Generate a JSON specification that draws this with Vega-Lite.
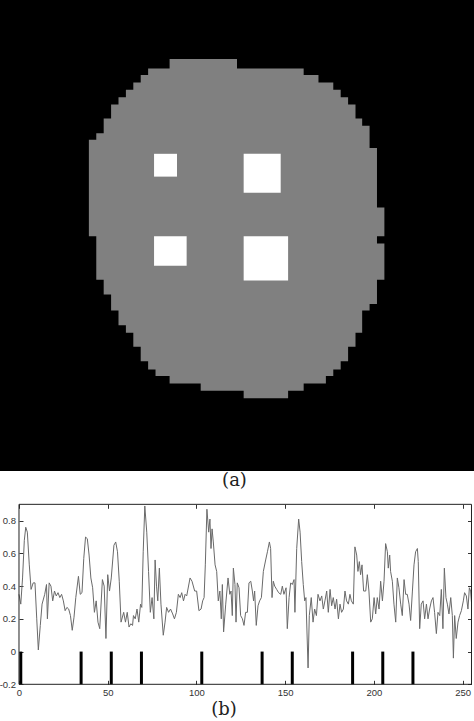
{
  "$schema": "https://vega.github.io/schema/vega-lite/v6.json",
  "width": 474,
  "height": 721,
  "autosize": "none",
  "padding": 0,
  "background": "white",
  "config": {"view": {"stroke": null}},
  "datasets": {
    "image": [
      {"part": "background", "c0": 0, "c1": 64, "r0": 0, "r1": 64},
      {"part": "lesion", "c0": 20.8, "c1": 23.9, "r0": 20.9, "r1": 24},
      {"part": "lesion", "c0": 32.9, "c1": 37.9, "r0": 20.9, "r1": 26.2},
      {"part": "lesion", "c0": 20.8, "c1": 25.2, "r0": 32.1, "r1": 36.1},
      {"part": "lesion", "c0": 32.9, "c1": 38.9, "r0": 32.1, "r1": 38.1}
    ],
    "tissue": [
      {"r": 8, "left": 22.9, "right": 32},
      {"r": 9.3, "left": 20, "right": 41},
      {"r": 10.2, "left": 19, "right": 43},
      {"r": 11.2, "left": 18, "right": 45},
      {"r": 12.2, "left": 17, "right": 46},
      {"r": 13.2, "left": 16, "right": 47},
      {"r": 14.2, "left": 15, "right": 48},
      {"r": 16.1, "left": 14, "right": 48.9},
      {"r": 17.1, "left": 14, "right": 49.9},
      {"r": 18.1, "left": 13, "right": 49.9},
      {"r": 19, "left": 12, "right": 49.9},
      {"r": 20.1, "left": 12, "right": 50.9},
      {"r": 28.2, "left": 12, "right": 51.9},
      {"r": 32.1, "left": 13, "right": 50.9},
      {"r": 33.1, "left": 13, "right": 51.9},
      {"r": 38, "left": 14, "right": 50.9},
      {"r": 40, "left": 15, "right": 50.9},
      {"r": 41.3, "left": 15, "right": 49.9},
      {"r": 42.2, "left": 16, "right": 48.9},
      {"r": 44.2, "left": 17, "right": 48.9},
      {"r": 45.2, "left": 18, "right": 48},
      {"r": 47.1, "left": 19, "right": 47},
      {"r": 49.1, "left": 20, "right": 46},
      {"r": 50.2, "left": 21, "right": 45},
      {"r": 51.1, "left": 22.9, "right": 44},
      {"r": 52.1, "left": 27.1, "right": 41},
      {"r": 53.1, "left": 32.9, "right": 38.9},
      {"r": 54.1, "left": 32.9, "right": 38.9}
    ],
    "signal": [
      {"t":0,"v":0.35},{"t":1,"v":0.29},{"t":2,"v":0.45},{"t":3,"v":0.68},{"t":3.8,"v":0.76},{"t":4.7,"v":0.73},{"t":5.8,"v":0.53},{"t":6.8,"v":0.38},{"t":8,"v":0.42},{"t":9,"v":0.42},{"t":10,"v":0.2},{"t":10.9,"v":0.01},{"t":12,"v":0.16},{"t":13,"v":0.29},{"t":14.5,"v":0.35},{"t":15.5,"v":0.41},{"t":16,"v":0.2},{"t":17,"v":0.42},{"t":18,"v":0.4},{"t":19,"v":0.31},{"t":20,"v":0.37},{"t":21,"v":0.34},{"t":22,"v":0.36},{"t":23,"v":0.33},{"t":24,"v":0.35},{"t":25,"v":0.31},{"t":26,"v":0.25},{"t":27,"v":0.27},{"t":28,"v":0.26},{"t":29,"v":0.22},{"t":30,"v":0.13},{"t":31,"v":0.21},{"t":32,"v":0.33},{"t":33.5,"v":0.46},{"t":34.5,"v":0.35},{"t":35.5,"v":0.36},{"t":36.5,"v":0.57},{"t":37.5,"v":0.7},{"t":38.5,"v":0.69},{"t":39.5,"v":0.59},{"t":40.5,"v":0.45},{"t":41.5,"v":0.39},{"t":42.5,"v":0.24},{"t":43.5,"v":0.31},{"t":44.5,"v":0.18},{"t":45.5,"v":0.14},{"t":47,"v":0.44},{"t":48,"v":0.4},{"t":49,"v":0.08},{"t":50,"v":0.47},{"t":51,"v":0.37},{"t":52,"v":0.45},{"t":53.5,"v":0.65},{"t":54.5,"v":0.67},{"t":55.5,"v":0.61},{"t":56.5,"v":0.43},{"t":57.5,"v":0.18},{"t":59,"v":0.24},{"t":60,"v":0.18},{"t":61,"v":0.24},{"t":62,"v":0.15},{"t":63,"v":0.17},{"t":64,"v":0.16},{"t":64.5,"v":0.22},{"t":65.5,"v":0.2},{"t":66.5,"v":0.26},{"t":67.5,"v":0.18},{"t":68.5,"v":0.29},{"t":69.2,"v":0.27},{"t":70,"v":0.61},{"t":70.9,"v":0.89},{"t":72,"v":0.73},{"t":73,"v":0.49},{"t":74,"v":0.24},{"t":75,"v":0.33},{"t":76,"v":0.2},{"t":76.7,"v":0.56},{"t":77.5,"v":0.4},{"t":78.2,"v":0.31},{"t":79.1,"v":0.51},{"t":80,"v":0.29},{"t":81.3,"v":0.1},{"t":82.3,"v":0.18},{"t":83.2,"v":0.27},{"t":84.3,"v":0.24},{"t":85.4,"v":0.26},{"t":86.6,"v":0.23},{"t":87.6,"v":0.2},{"t":88.7,"v":0.24},{"t":89.8,"v":0.35},{"t":90.8,"v":0.33},{"t":91.7,"v":0.36},{"t":92.7,"v":0.31},{"t":93.6,"v":0.35},{"t":94.5,"v":0.34},{"t":96.4,"v":0.45},{"t":97.5,"v":0.43},{"t":99,"v":0.37},{"t":100.1,"v":0.37},{"t":101.4,"v":0.25},{"t":102.6,"v":0.26},{"t":103.5,"v":0.31},{"t":104.3,"v":0.33},{"t":105,"v":0.53},{"t":105.9,"v":0.87},{"t":106.9,"v":0.73},{"t":107.6,"v":0.81},{"t":108.2,"v":0.63},{"t":108.8,"v":0.75},{"t":109.5,"v":0.67},{"t":110.5,"v":0.53},{"t":111.4,"v":0.49},{"t":112.3,"v":0.31},{"t":113.2,"v":0.37},{"t":114,"v":0.2},{"t":114.6,"v":0.41},{"t":115.3,"v":0.12},{"t":116.5,"v":0.29},{"t":117.8,"v":0.45},{"t":118.8,"v":0.35},{"t":119.5,"v":0.37},{"t":120.2,"v":0.22},{"t":120.8,"v":0.51},{"t":121.7,"v":0.41},{"t":122.3,"v":0.18},{"t":123,"v":0.42},{"t":124,"v":0.39},{"t":124.9,"v":0.22},{"t":125.9,"v":0.2},{"t":126.8,"v":0.16},{"t":127.7,"v":0.24},{"t":128.7,"v":0.24},{"t":129.6,"v":0.42},{"t":130.6,"v":0.43},{"t":131.5,"v":0.37},{"t":132.2,"v":0.31},{"t":132.8,"v":0.37},{"t":133.7,"v":0.16},{"t":134.7,"v":0.28},{"t":135.6,"v":0.31},{"t":136.6,"v":0.33},{"t":137.7,"v":0.49},{"t":139,"v":0.56},{"t":140,"v":0.61},{"t":141.1,"v":0.67},{"t":141.8,"v":0.63},{"t":142.6,"v":0.33},{"t":143.3,"v":0.43},{"t":144.1,"v":0.4},{"t":145.2,"v":0.38},{"t":146.3,"v":0.36},{"t":147.5,"v":0.35},{"t":148.4,"v":0.4},{"t":149.3,"v":0.35},{"t":150.5,"v":0.39},{"t":151.2,"v":0.14},{"t":152.2,"v":0.33},{"t":153.1,"v":0.42},{"t":154,"v":0.41},{"t":155,"v":0.44},{"t":155.5,"v":0.24},{"t":156.5,"v":0.63},{"t":157.6,"v":0.81},{"t":158.4,"v":0.73},{"t":159.3,"v":0.55},{"t":160.2,"v":0.41},{"t":161,"v":0.31},{"t":161.7,"v":0.33},{"t":162.9,"v":-0.1},{"t":163.6,"v":0.22},{"t":164.7,"v":0.33},{"t":165.7,"v":0.18},{"t":166.6,"v":0.26},{"t":167.6,"v":0.22},{"t":168.5,"v":0.35},{"t":169.6,"v":0.31},{"t":170.6,"v":0.34},{"t":171.5,"v":0.26},{"t":172.4,"v":0.31},{"t":173.4,"v":0.37},{"t":174.3,"v":0.24},{"t":175.3,"v":0.38},{"t":176.2,"v":0.28},{"t":177.1,"v":0.33},{"t":178.1,"v":0.26},{"t":179,"v":0.32},{"t":180,"v":0.2},{"t":180.9,"v":0.29},{"t":181.8,"v":0.24},{"t":182.8,"v":0.26},{"t":183.7,"v":0.37},{"t":184.6,"v":0.31},{"t":185.6,"v":0.29},{"t":186.5,"v":0.35},{"t":187.3,"v":0.31},{"t":188.4,"v":0.29},{"t":189.3,"v":0.64},{"t":190.3,"v":0.59},{"t":191,"v":0.49},{"t":191.8,"v":0.55},{"t":192.5,"v":0.47},{"t":193.3,"v":0.53},{"t":194.2,"v":0.37},{"t":195.4,"v":0.37},{"t":196.3,"v":0.47},{"t":197.2,"v":0.37},{"t":198.2,"v":0.18},{"t":199.1,"v":0.2},{"t":200.1,"v":0.33},{"t":201,"v":0.23},{"t":201.9,"v":0.33},{"t":202.9,"v":0.26},{"t":203.8,"v":0.43},{"t":204.8,"v":0.31},{"t":205.7,"v":0.43},{"t":206.6,"v":0.66},{"t":207.6,"v":0.61},{"t":208.1,"v":0.51},{"t":208.9,"v":0.59},{"t":209.4,"v":0.49},{"t":210.4,"v":0.43},{"t":211.3,"v":0.29},{"t":212.3,"v":0.18},{"t":213.2,"v":0.45},{"t":214.1,"v":0.39},{"t":215.1,"v":0.29},{"t":216,"v":0.22},{"t":217,"v":0.44},{"t":217.9,"v":0.35},{"t":218.8,"v":0.35},{"t":219.8,"v":0.29},{"t":220.7,"v":0.19},{"t":221.7,"v":0.37},{"t":222.6,"v":0.53},{"t":223.5,"v":0.61},{"t":224.5,"v":0.63},{"t":225,"v":0.55},{"t":225.8,"v":0.14},{"t":226.7,"v":0.29},{"t":227.7,"v":0.31},{"t":228.6,"v":0.2},{"t":229.6,"v":0.29},{"t":230.5,"v":0.2},{"t":231.4,"v":0.26},{"t":232.4,"v":0.31},{"t":233.3,"v":0.33},{"t":234.2,"v":0.24},{"t":235.2,"v":0.11},{"t":236.1,"v":0.24},{"t":237.1,"v":0.22},{"t":238,"v":0.38},{"t":238.9,"v":0.14},{"t":239.7,"v":0.51},{"t":240.6,"v":0.33},{"t":241.4,"v":0.29},{"t":242.3,"v":0.23},{"t":243.3,"v":0.33},{"t":244.2,"v":0.22},{"t":244.8,"v":-0.04},{"t":245.5,"v":0.22},{"t":246.4,"v":0.08},{"t":247.4,"v":0.18},{"t":248.3,"v":0.22},{"t":249.3,"v":0.25},{"t":250.4,"v":0.31},{"t":251.1,"v":0.36},{"t":252.1,"v":0.34},{"t":253,"v":0.26},{"t":253.8,"v":0.39},{"t":254.5,"v":0.37},{"t":255,"v":0.3}
    ],
    "markers": [
      {"t": 1}, {"t": 35}, {"t": 52}, {"t": 69}, {"t": 103},
      {"t": 137}, {"t": 154}, {"t": 188}, {"t": 205}, {"t": 222}
    ]
  },
  "layer": [
    {
      "data": {"name": "image"},
      "transform": [{"filter": "datum.part == 'background'"}],
      "mark": {"type": "rect", "color": "#000000"},
      "encoding": {
        "x": {
          "field": "c0", "type": "quantitative",
          "scale": {"domain": [0, 64], "nice": false, "zero": false},
          "axis": {
            "orient": "bottom", "offset": -250, "domain": false, "ticks": false, "labels": false, "grid": false,
            "title": "(a)", "titleFont": "DejaVu Serif", "titleFontSize": 18, "titleFontWeight": "normal",
            "titleColor": "#222222", "titleX": 234, "titleY": 9, "titleBaseline": "middle", "titleAlign": "center", "titleAngle": 0
          }
        },
        "x2": {"field": "c1"},
        "y": {
          "field": "r0", "type": "quantitative",
          "scale": {"domain": [0, 97.97], "reverse": true, "nice": false, "zero": false},
          "axis": null
        },
        "y2": {"field": "r1"}
      }
    },
    {
      "data": {"name": "tissue"},
      "mark": {"type": "area", "orient": "horizontal", "interpolate": "step-before", "color": "#808080", "opacity": 1},
      "encoding": {
        "y": {
          "field": "r", "type": "quantitative",
          "scale": {"domain": [0, 97.97], "reverse": true, "nice": false, "zero": false},
          "axis": null
        },
        "x": {
          "field": "left", "type": "quantitative",
          "scale": {"domain": [0, 64], "nice": false, "zero": false},
          "axis": null
        },
        "x2": {"field": "right"}
      }
    },
    {
      "data": {"name": "image"},
      "transform": [{"filter": "datum.part == 'lesion'"}],
      "mark": {"type": "rect", "color": "#ffffff"},
      "encoding": {
        "x": {
          "field": "c0", "type": "quantitative",
          "scale": {"domain": [0, 64], "nice": false, "zero": false},
          "axis": null
        },
        "x2": {"field": "c1"},
        "y": {
          "field": "r0", "type": "quantitative",
          "scale": {"domain": [0, 97.97], "reverse": true, "nice": false, "zero": false},
          "axis": null
        },
        "y2": {"field": "r1"}
      }
    },
    {
      "data": {"name": "signal"},
      "mark": {"type": "line", "color": "#6a6a6a", "strokeWidth": 1},
      "encoding": {
        "x": {
          "field": "t", "type": "quantitative",
          "scale": {"domain": [-10.707, 256.409], "nice": false, "zero": false},
          "axis": {
            "orient": "bottom", "offset": -36.7, "values": [0, 50, 100, 150, 200, 250], "format": "d",
            "domain": false, "grid": false, "tickSize": -4, "tickColor": "#333333", "tickWidth": 1,
            "labelPadding": 7.3, "labelFont": "Liberation Sans", "labelFontSize": 9.5, "labelColor": "#333333",
            "labelFlush": false, "labelOverlap": false,
            "title": "(b)", "titleFont": "DejaVu Serif", "titleFontSize": 18, "titleFontWeight": "normal",
            "titleColor": "#222222", "titleX": 223.5, "titleY": 24.7, "titleBaseline": "middle", "titleAlign": "center", "titleAngle": 0
          }
        },
        "y": {
          "field": "v", "type": "quantitative",
          "scale": {"domain": [-0.4243, 3.9825], "nice": false, "zero": false},
          "axis": {
            "orient": "left", "offset": -19, "values": [-0.2, 0, 0.2, 0.4, 0.6, 0.8],
            "labelExpr": "datum.value == 0 ? '0' : (datum.value < 0 ? '-' : '') + format(abs(datum.value), '.1f')",
            "domain": false, "grid": false, "tickSize": -4, "tickColor": "#333333", "tickWidth": 1,
            "labelPadding": 7.5, "labelFont": "Liberation Sans", "labelFontSize": 9.5, "labelColor": "#333333",
            "labelFlush": false, "labelOverlap": false, "title": null
          }
        }
      }
    },
    {
      "data": {"name": "markers"},
      "mark": {"type": "rule", "color": "#000000", "strokeWidth": 3},
      "encoding": {
        "x": {
          "field": "t", "type": "quantitative",
          "scale": {"domain": [-10.707, 256.409], "nice": false, "zero": false},
          "axis": null
        },
        "y": {
          "datum": -0.2, "type": "quantitative",
          "scale": {"domain": [-0.4243, 3.9825], "nice": false, "zero": false},
          "axis": null
        },
        "y2": {"datum": 0}
      }
    },
    {
      "data": {"values": [{}]},
      "mark": {"type": "rect", "fill": "transparent", "stroke": "#222222", "strokeWidth": 1},
      "encoding": {
        "x": {
          "datum": 0, "type": "quantitative",
          "scale": {"domain": [-10.707, 256.409], "nice": false, "zero": false},
          "axis": {
            "orient": "top", "offset": -504.3, "values": [0, 50, 100, 150, 200, 250],
            "labels": false, "domain": false, "grid": false, "tickSize": -4, "tickColor": "#333333", "title": null
          }
        },
        "x2": {"datum": 255},
        "y": {
          "datum": -0.2, "type": "quantitative",
          "scale": {"domain": [-0.4243, 3.9825], "nice": false, "zero": false},
          "axis": {
            "orient": "right", "offset": -2.5, "values": [-0.2, 0, 0.2, 0.4, 0.6, 0.8],
            "labels": false, "domain": false, "grid": false, "tickSize": -4, "tickColor": "#333333", "title": null
          }
        },
        "y2": {"datum": 0.9}
      }
    }
  ],
  "resolve": {
    "scale": {"x": "independent", "y": "independent"},
    "axis": {"x": "independent", "y": "independent"}
  }
}
